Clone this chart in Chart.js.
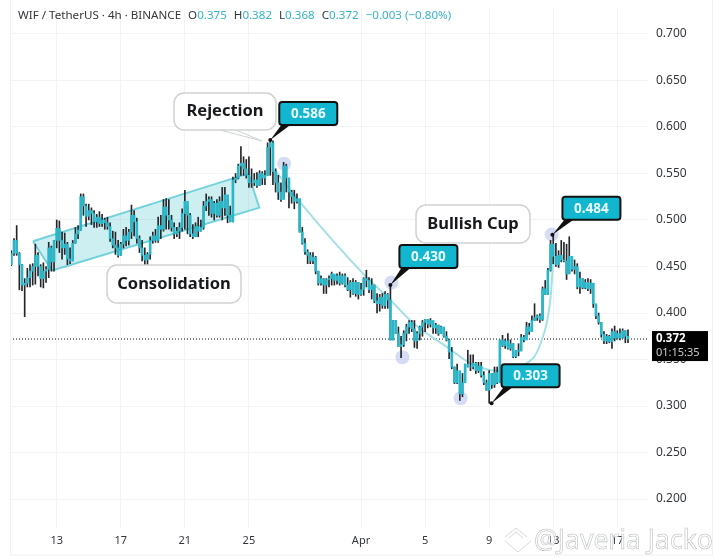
<!DOCTYPE html>
<html>
<head>
<meta charset="utf-8">
<title>WIF / TetherUS</title>
<script src="https://cdn.jsdelivr.net/npm/chart.js"></script>
<style>
  html, body { margin: 0; padding: 0; background: #fff; }
  #plot { display: block; }
</style>
</head>
<body>
<canvas id="plot" width="723" height="559"></canvas>
<script>
// 4h candles, first candle is Mar 10 04:00
const closes = [
  .464,.478,.464,.452,.430,.432,.438,.445,.450,.462,.450,.437,.445,.447,.470,.455,.478,.491,.478,.470,
  .474,.458,.456,.475,.485,.489,.525,.515,.504,.510,.507,.498,.503,.496,.500,.497,.493,.480,.473,.470,
  .462,.474,.483,.478,.487,.505,.498,.480,.470,.462,.457,.463,.478,.483,.478,.494,.490,.514,.505,.500,
  .492,.485,.488,.492,.507,.520,.505,.485,.482,.493,.488,.492,.515,.520,.522,.507,.518,.505,.520,.513,
  .527,.505,.498,.543,.545,.558,.561,.555,.548,.540,.540,.543,.537,.550,.545,.548,.578,.583,.552,.540,
  .530,.522,.558,.545,.530,.525,.520,.523,.487,.475,.466,.462,.456,.460,.445,.432,.437,.430,.436,.437,
  .442,.435,.440,.432,.440,.430,.425,.433,.421,.433,.420,.425,.437,.435,.425,.430,.413,.410,.417,.408,
  .420,.414,.371,.392,.378,.364,.366,.378,.385,.390,.383,.370,.378,.385,.390,.393,.388,.392,.384,.387,
  .378,.385,.375,.371,.358,.342,.325,.338,.313,.325,.345,.342,.342,.346,.338,.343,.333,.325,.317,.335,
  .323,.336,.325,.371,.365,.370,.362,.367,.353,.360,.359,.374,.371,.385,.380,.392,.395,.397,.393,.426,
  .420,.446,.474,.461,.452,.462,.457,.456,.442,.461,.447,.450,.428,.437,.427,.433,.426,.432,.410,.397,
  .390,.377,.370,.375,.369,.380,.373,.378,.373,.381,.375,.372
];
const highs = [
  .467,.480,.494,.465,.452,.437,.448,.452,.453,.474,.465,.452,.454,.450,.476,.472,.478,.500,.499,.487,
  .486,.476,.470,.478,.492,.494,.528,.528,.517,.517,.513,.510,.506,.509,.506,.502,.503,.497,.488,.487,
  .478,.476,.490,.492,.490,.516,.510,.502,.483,.478,.470,.465,.482,.487,.490,.503,.505,.522,.523,.522,
  .505,.497,.492,.497,.512,.532,.515,.507,.495,.497,.503,.500,.520,.528,.525,.525,.520,.522,.525,.535,
  .535,.522,.515,.546,.550,.560,.579,.568,.565,.568,.555,.550,.551,.553,.552,.553,.583,.586,.585,.555,
  .548,.540,.562,.560,.545,.532,.532,.528,.520,.492,.480,.468,.465,.465,.461,.445,.440,.437,.437,.440,
  .444,.440,.442,.444,.442,.442,.438,.435,.437,.435,.433,.432,.438,.446,.438,.437,.430,.421,.420,.421,
  .423,.421,.430,.392,.392,.385,.375,.381,.388,.392,.392,.392,.380,.386,.392,.393,.393,.394,.389,.389,
  .387,.386,.383,.380,.372,.363,.342,.345,.335,.335,.345,.360,.355,.355,.347,.347,.347,.337,.328,.338,
  .335,.342,.342,.371,.376,.372,.378,.371,.367,.360,.367,.377,.376,.390,.389,.397,.410,.398,.399,.428,
  .435,.448,.478,.485,.475,.467,.478,.476,.474,.482,.461,.457,.453,.444,.437,.436,.437,.436,.432,.407,
  .400,.390,.380,.377,.376,.383,.386,.381,.383,.383,.381,.382
];
const lows = [
  .451,.462,.462,.425,.424,.396,.428,.428,.430,.431,.440,.428,.427,.433,.438,.445,.445,.470,.465,.458,
  .463,.452,.453,.456,.475,.480,.489,.505,.493,.500,.495,.492,.492,.493,.493,.490,.490,.477,.470,.463,
  .460,.462,.470,.472,.473,.480,.483,.475,.465,.456,.450,.451,.458,.475,.476,.476,.480,.488,.490,.490,
  .488,.480,.482,.480,.488,.490,.485,.482,.480,.482,.482,.488,.490,.510,.505,.503,.500,.503,.503,.500,
  .505,.497,.498,.498,.540,.544,.548,.548,.545,.535,.535,.537,.535,.537,.538,.538,.548,.548,.538,.530,
  .522,.520,.525,.530,.513,.518,.512,.518,.487,.474,.463,.453,.453,.453,.442,.430,.430,.421,.421,.428,
  .430,.430,.431,.430,.431,.428,.424,.417,.420,.418,.415,.419,.419,.428,.422,.415,.411,.400,.402,.405,
  .405,.405,.371,.371,.378,.364,.352,.364,.370,.378,.380,.363,.362,.371,.375,.380,.384,.385,.378,.378,
  .376,.378,.374,.370,.351,.340,.324,.324,.306,.310,.325,.342,.338,.340,.335,.336,.331,.323,.317,.303,
  .319,.320,.324,.325,.364,.362,.361,.360,.352,.352,.354,.360,.369,.374,.377,.385,.392,.392,.390,.392,
  .420,.420,.445,.453,.450,.449,.455,.455,.436,.444,.445,.442,.426,.421,.426,.426,.424,.421,.406,.394,
  .388,.374,.367,.367,.368,.362,.370,.372,.371,.373,.368,.368
];
const firstOpen = 0.452;
const opens = closes.map((c, i) => i ? closes[i - 1] : firstOpen);

const slotCount = 239; // room right of the last candle
const slots = [];
for (let i = 0; i < slotCount; i++) slots.push('c' + i);

const yTicks = [0.7, 0.65, 0.6, 0.55, 0.5, 0.45, 0.4, 0.35, 0.3, 0.25, 0.2];
const xTickSlots = [17, 41, 65, 89, 131, 155, 179, 203, 227];
const xTickLabels = ['13', '17', '21', '25', 'Apr', '5', '9', '13', '17'];

// [slot, price]
const channel = [[8.1, .4772], [88.75, .5498], [92.9, .5133], [15.25, .4457], [8.1, .4772]];
const cup = [[98.9, .553], [108.2, .519], [131.9, .442], [142, .414], [150.6, .389], [163.4, .363],
  [172, .346], [182, .338], [191.9, .344], [198.2, .367], [202, .417], [203.1, .460]];
const swings = [[102.2, .5605], [142.4, .4328], [146.5, .3524], [168.3, .3084], [202.4, .4843]];
const lastPrice = 0.372;
const lastCountdown = '01:15:35';

const calloutSlots = [97, 142, 179.9, 202.7];
const calloutPrices = [.586, .430, .303, .484];

const teal = '#2ab6c7';
const toXY = p => ({ x: p[0], y: p[1] });

function roundBox(ctx, x, y, w, h, r) {
  ctx.beginPath();
  ctx.roundRect(x, y, w, h, r);
}

function noteBox(ctx, text, x, y, w, h) {
  ctx.fillStyle = '#fff';
  ctx.strokeStyle = '#cfd2d4';
  ctx.lineWidth = 1.5;
  roundBox(ctx, x, y, w, h, 10);
  ctx.fill();
  ctx.stroke();
  ctx.fillStyle = '#17191c';
  ctx.font = 'bold 16.5px "Noto Sans"';
  ctx.textAlign = 'center';
  ctx.textBaseline = 'middle';
  ctx.fillText(text, x + w / 2, y + h / 2);
}

// boxes sit at a fixed pixel offset from the point they mark
const calloutBoxes = [[9, -38], [9, -40], [10, -39], [10, -38]];

const overlay = {
  id: 'overlay',
  afterDraw(chart) {
    const { ctx, scales } = chart;
    const sx = scales.xl, sy = scales.y;
    ctx.save();

    // outer frame
    ctx.strokeStyle = '#f0f1f2';
    ctx.lineWidth = 1;
    ctx.strokeRect(10.5, -2, 702, 557);

    // header
    ctx.textBaseline = 'middle';
    ctx.textAlign = 'left';
    ctx.font = '11.6px "Noto Sans"';
    let hx = 18;
    const head = [['WIF / TetherUS · 4h · BINANCE', '#33363b', 7], ['O', '#33363b', 0], ['0.375', '#35b5c4', 7],
      ['H', '#33363b', 0], ['0.382', '#35b5c4', 7], ['L', '#33363b', 0], ['0.368', '#35b5c4', 7],
      ['C', '#33363b', 0], ['0.372', '#35b5c4', 7], ['−0.003 (−0.80%)', '#35b5c4', 0]];
    head.forEach(h => {
      ctx.fillStyle = h[1];
      ctx.fillText(h[0], hx, 16);
      hx += ctx.measureText(h[0]).width + h[2];
    });

    // last price tag
    const ly = sy.getPixelForValue(lastPrice);
    ctx.fillStyle = '#000';
    ctx.fillRect(652, ly - 8, 56, 30);
    ctx.fillStyle = '#fff';
    ctx.font = 'bold 11.5px "Noto Sans"';
    ctx.fillText(lastPrice.toFixed(3), 656, ly);
    ctx.fillStyle = '#c9c9c9';
    ctx.font = '11px "Noto Sans"';
    ctx.fillText(lastCountdown, 656, ly + 14);

    // price callouts
    calloutSlots.forEach((s, i) => {
      const ax = sx.getPixelForValue(s), ay = sy.getPixelForValue(calloutPrices[i]);
      const bx = ax + calloutBoxes[i][0], by = ay + calloutBoxes[i][1];
      ctx.fillStyle = '#111';
      ctx.beginPath();
      ctx.moveTo(ax, ay);
      ctx.lineTo(bx + 2, by + 23);
      ctx.lineTo(bx + 11, by + 23);
      ctx.closePath();
      ctx.fill();
      ctx.beginPath();
      ctx.arc(ax, ay, 2, 0, Math.PI * 2);
      ctx.fill();
      ctx.fillStyle = '#12b6cf';
      ctx.strokeStyle = '#111';
      ctx.lineWidth = 2;
      roundBox(ctx, bx, by, 58, 23, 3);
      ctx.fill();
      ctx.stroke();
      ctx.fillStyle = '#eafcff';
      ctx.font = 'bold 13.5px "Noto Sans"';
      ctx.textAlign = 'center';
      ctx.fillText(calloutPrices[i].toFixed(3), bx + 29, by + 12);
    });

    // Rejection pointer then the note boxes
    ctx.fillStyle = '#fff';
    ctx.strokeStyle = '#cfd2d4';
    ctx.lineWidth = 1;
    ctx.beginPath();
    ctx.moveTo(220, 130);
    ctx.lineTo(262, 141);
    ctx.lineTo(236, 130);
    ctx.fill();
    ctx.stroke();
    noteBox(ctx, 'Rejection', 174, 93, 102, 37);
    noteBox(ctx, 'Consolidation', 107, 265, 134, 38);
    noteBox(ctx, 'Bullish Cup', 416, 205, 114, 38);

    // watermark
    ctx.textAlign = 'left';
    ctx.font = '26.5px "Noto Sans"';
    ctx.strokeStyle = 'rgba(130,135,140,.55)';
    ctx.lineWidth = 0.6;
    ctx.fillStyle = 'rgba(255,255,255,.85)';
    ctx.fillText('@Javeria Jacko', 534, 541);
    ctx.strokeText('@Javeria Jacko', 534, 541);
    ctx.beginPath();
    [[505, 537, 516, 528, 527, 537], [509, 538, 516, 532, 523, 538], [505, 541, 518, 552, 531, 541]].forEach(c => {
      ctx.moveTo(c[0], c[1]);
      ctx.lineTo(c[2], c[3]);
      ctx.lineTo(c[4], c[5]);
    });
    ctx.stroke();
    ctx.restore();
  }
};

const noPad = s => { s.paddingTop = s.paddingBottom = s.paddingLeft = s.paddingRight = 0; };

new Chart(document.getElementById('plot').getContext('2d'), {
  type: 'bar',
  plugins: [overlay],
  data: {
    labels: slots,
    datasets: [
      {
        type: 'line', xAxisID: 'xl', order: 5,
        data: channel.map(toXY),
        borderColor: '#74d2da', borderWidth: 2,
        backgroundColor: 'rgba(34,180,198,.22)',
        fill: 'shape', tension: 0, pointRadius: 0
      },
      {
        type: 'line', xAxisID: 'xl', order: 4,
        data: cup.map(toXY),
        borderColor: '#a5e0e4', borderWidth: 2,
        cubicInterpolationMode: 'monotone', pointRadius: 0, fill: false
      },
      {
        type: 'line', xAxisID: 'xl', order: 3,
        data: swings.map(toXY),
        showLine: false, pointRadius: 7, pointBorderWidth: 0,
        pointBackgroundColor: 'rgba(178,192,235,.55)'
      },
      {
        type: 'line', xAxisID: 'xl', order: 6,
        data: [{ x: -0.5, y: lastPrice }, { x: slotCount - 0.5, y: lastPrice }],
        borderColor: '#111', borderWidth: 1, borderDash: [1, 2], pointRadius: 0, fill: false
      },
      {
        label: 'wick', order: 2, grouped: false,
        data: highs.map((h, i) => [lows[i], h]),
        backgroundColor: '#23262b', barThickness: 1
      },
      {
        label: 'body', order: 1, grouped: false,
        data: closes.map((c, i) => [Math.min(opens[i], c), Math.max(opens[i], c)]),
        backgroundColor: teal, barThickness: 2
      }
    ]
  },
  options: {
    responsive: false,
    animation: false,
    devicePixelRatio: 1,
    layout: { padding: { left: 10, top: 9, right: 0, bottom: 0 } },
    plugins: { legend: { display: false }, tooltip: { enabled: false } },
    scales: {
      x: {
        offset: true,
        border: { display: false },
        grid: { color: '#f2f3f5', drawTicks: false, offset: false },
        afterBuildTicks: s => { s.ticks = xTickSlots.map(v => ({ value: v })); },
        afterFit: s => { s.height = 31; noPad(s); },
        ticks: {
          autoSkip: false, maxRotation: 0, padding: 6,
          color: '#33363b',
          font: { family: '"Noto Sans"', size: 11 },
          callback: (v, i) => xTickLabels[i]
        }
      },
      // same span as the candle slots, carries the drawn lines and circles
      xl: {
        type: 'linear', position: 'bottom', offset: false,
        min: -0.5, max: slotCount - 0.5,
        border: { display: false },
        grid: { display: false, drawTicks: false },
        ticks: { display: false },
        afterFit: s => { s.height = 0; noPad(s); }
      },
      y: {
        position: 'right',
        min: 0.1689, max: 0.7268,
        border: { display: false },
        grid: { color: '#f2f3f5', drawTicks: false },
        afterBuildTicks: s => { s.ticks = yTicks.map(v => ({ value: v })); },
        afterFit: s => { s.width = 75; noPad(s); },
        ticks: {
          padding: 8, color: '#33363b',
          font: { family: '"Noto Sans"', size: 12 },
          callback: v => v.toFixed(3)
        }
      }
    }
  }
});
</script>
</body>
</html>
